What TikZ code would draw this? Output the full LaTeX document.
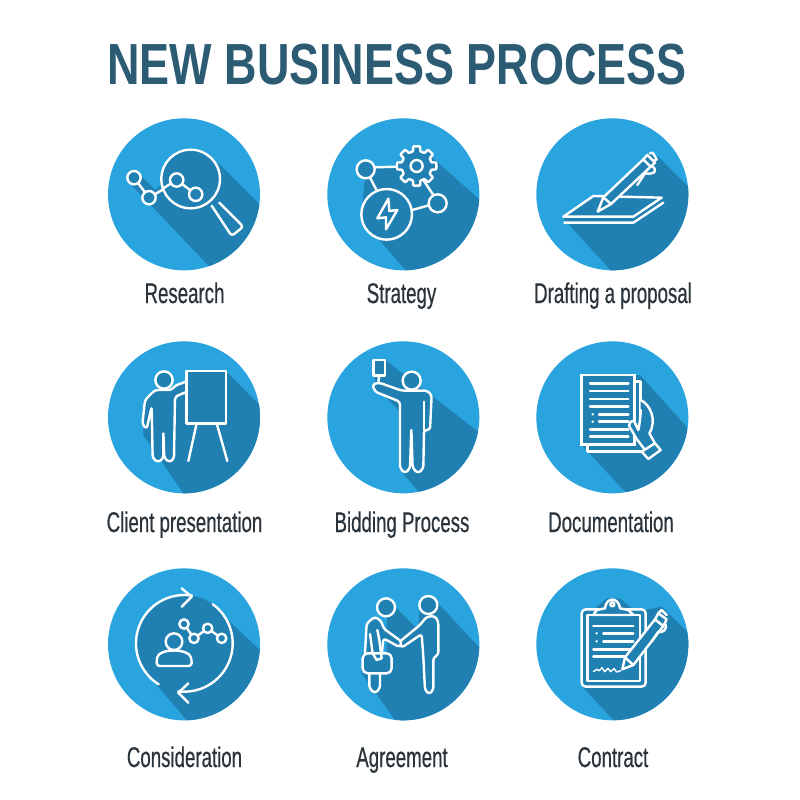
\documentclass[tikz,border=0pt]{standalone}
\usepackage{fontspec}
\setmainfont{Liberation Sans}
\newfontfamily\titlefont[FakeStretch=0.775]{Liberation Sans Bold}
\newfontfamily\labelfont[FakeStretch=0.655,FakeBold=0.5]{Liberation Sans}
\definecolor{lt}{HTML}{2AA4DF}
\definecolor{dk}{HTML}{2080B2}
\definecolor{ttl}{HTML}{2C5B74}
\definecolor{lab}{HTML}{2B343A}
\tikzset{
  ic/.style 2 args={shift={(#1,#2)},x=.33333pt,y=-.33333pt},
  ln/.style={draw=white,line width=2.4pt,line cap=round,line join=round},
  sh/.style={ln,fill=dk},
  capt/.style={font=\labelfont\fontsize{28.5}{30}\selectfont,text=lab,inner sep=0pt,anchor=base},
  ttlnode/.style={font=\titlefont\fontsize{58}{60}\selectfont,text=ttl,inner sep=0pt,anchor=center}
}
\newcommand\disc[3]{\fill[lt] (#1,#2) circle[radius=228];
  \begin{scope}\clip (#1,#2) circle[radius=228]; \fill[dk] #3; \end{scope}}
\begin{document}
\begin{tikzpicture}[x=1pt,y=-1pt]
\useasboundingbox (0,0) rectangle (800,800);
\fill[white] (0,0) rectangle (800,800);
\node[ttlnode] (title) at (397,65) {NEW BUSINESS PROCESS};
\node[capt] (c1) at (184.5,303) {Research};
\node[capt] (c2) at (401.5,303) {Strategy};
\node[capt] (c3) at (613,303) {Drafting a proposal};
\node[capt] (c4) at (184.5,532) {Client presentation};
\node[capt] (c5) at (402,532) {Bidding Process};
\node[capt] (c6) at (611,532) {Documentation};
\node[capt] (c7) at (184.5,767) {Consideration};
\node[capt] (c8) at (402,767) {Agreement};
\node[capt] (c9) at (613,767) {Contract};

% 1 Research
\begin{scope}[ic={100}{110}]
\disc{252}{253}{(85,215)--(115,190)--(165,240)--(195,215)--(270,120)--(360,165)--(700,505)--(500,650)--cycle}
\draw[ln] (102,203)--(147,263)--(190,238);
\foreach \a/\b in {102/203,147/263}{\draw[sh] (\a,\b) circle[radius=20];}
\draw[sh,rounded corners=3pt] (335,287)--(395,378)--(430,350)--(358,278);
\draw[sh] (272,207) circle[radius=88];
\draw[ln] (230,210)--(287,253) (188,236)--(230,210);
\foreach \a/\b in {230/210,287/253}{\draw[sh] (\a,\b) circle[radius=20];}
\end{scope}

% 2 Strategy
\begin{scope}[ic={320}{110}]
\disc{250}{253}{(165,172)--(235,172)--(290,110)--(345,150)--(480,270)--(480,500)--(265,490)--(165,375)--(125,310)--(135,200)--cycle}
\draw[ln] (137,178)--(172,245) (165,172)--(232,170) (310,210)--(340,255) (277,300)--(330,285);
\draw[sh] (137,178) circle[radius=27];
\draw[sh] (353,280) circle[radius=27];
\draw[sh] (200,313) circle[radius=76];
\draw[sh] (205,266)--(172,325)--(198,322)--(198,358)--(232,300)--(208,303)--cycle;
\draw[sh,rounded corners=.8pt] ({290+45*cos(-22.5)},{168+45*sin(-22.5)})
  \foreach \t in {0,45,...,315}{
   -- ({290+45*cos(\t-14)},{168+45*sin(\t-14)}) -- ({290+60*cos(\t-10)},{168+60*sin(\t-10)}) -- ({290+60*cos(\t+10)},{168+60*sin(\t+10)}) -- ({290+45*cos(\t+14)},{168+45*sin(\t+14)}) -- ({290+45*cos(\t+22.5)},{168+45*sin(\t+22.5)})
  } -- cycle;
\draw[ln] (290,168) circle[radius=18];
\end{scope}

% 3 Drafting
\begin{scope}[ic={530}{110}]
\disc{247}{253}{(100,325)--(190,258)--(225,258)--(355,130)--(385,140)--(480,235)--(480,500)--(250,490)--cycle}
\draw[ln] (100,320)--(190,258)--(395,263)--(310,320)--cycle;
\draw[ln] (103,338)--(310,338)--(400,278);
\draw[sh] (203,305)--(220,262)--(340,148)--(362,170)--(243,282)--cycle;
\draw[ln] (220,262)--(243,282);
\draw[sh] (340,148)--(352,135)--(375,158)--(362,170)--cycle;
\draw[ln] (360,130)--(368,128)--(380,148)--(373,152);
\draw[ln] (365,168) .. controls (385,180) and (375,195) .. (345,190)--(322,225);
\end{scope}

% 4 Client presentation
\begin{scope}[ic={100}{335}]
\disc{252}{247}{(130,300)--(130,200)--(225,185)--(260,175)--(260,108)--(378,108)--(490,220)--(490,500)--(250,475)--cycle}
\draw[sh,rounded corners=3pt] (165,165)--(135,195)--(127,268)--(140,282)--(155,215)--(158,370)--(175,382)--(190,370)--(190,290)--(193,370)--(210,382)--(222,370)--(225,185)--(285,160)--(298,145)--(285,130)--(225,152)--(215,165)--cycle;
\draw[sh] (192,135) circle[radius=26];
\draw[sh] (260,108) rectangle (378,265);
\draw[ln] (290,265)--(265,378) (350,265)--(382,378);
\end{scope}

% 5 Bidding
\begin{scope}[ic={320}{335}]
\disc{250}{247}{(165,75)--(195,75)--(475,290)--(490,480)--(300,475)--(240,405)--(240,230)--(165,155)--cycle}
\draw[sh] (160,75) rectangle (195,122);
\draw[ln] (177,122)--(175,146);
\draw[sh,rounded corners=3pt] (157,148)--(178,143)--(245,167)--(322,167)--(335,180)--(330,285)--(312,285)--(310,400)--(295,415)--(278,400)--(274,280)--(270,400)--(255,415)--(240,400)--(240,200)--(165,170)--cycle;
\draw[ln] (312,200)--(312,285);
\draw[sh] (275,137) circle[radius=27];
\end{scope}

% 6 Documentation
\begin{scope}[ic={530}{335}]
\disc{247}{247}{(155,120)--(330,120)--(470,275)--(490,480)--(285,470)--(155,330)--cycle}
\draw[ln,line cap=butt] (313,140)--(332,140)--(332,255);
\draw[ln,line cap=butt] (172,328)--(172,350)--(335,350);
\draw[sh,line join=miter] (155,120) rectangle (313,328);
\draw[ln] \foreach \y in {146,168,192,215,283,305}{(180,\y)--(295,\y)};
\draw[ln] (207,238)--(295,238) (207,260)--(295,260);
\fill[white] (188,238) circle[radius=4] (188,260) circle[radius=4];
\draw[sh] (332,195) .. controls (360,208) and (382,255) .. (358,295)--(375,325)--(345,345)--(320,312)--(297,272)--(302,260)--(312,258)--(325,285) .. controls (330,260) and (332,240) .. (332,225);
\draw[sh] (335,350)--(375,325)--(392,345)--(355,372)--cycle;
\end{scope}

% 7 Consideration
\begin{scope}[ic={100}{560}]
\disc{252}{253}{(253,250) circle[radius=145] (270,110)--(335,135)--(480,270)--(480,500)--(260,480)--(170,375)--cycle}
\draw[ln] plot[domain=122:279,samples=50] ({253+145*cos(\x)},{250+145*sin(\x)});
\draw[ln] (245,85)--(275,110)--(245,140);
\draw[ln] plot[domain=-54:97,samples=50] ({253+145*cos(\x)},{250+145*sin(\x)});
\draw[ln] (265,370)--(235,398)--(265,428);
\draw[ln] (252,192)--(282,235)--(323,205)--(365,235);
\foreach \a/\b in {252/192,282/235,323/205,365/235}{\draw[sh] (\a,\b) circle[radius=14];}
\draw[sh] (222,245) circle[radius=25];
\draw[sh,rounded corners=3pt] (170,318)--(170,300) .. controls (178,265) and (265,265) .. (275,300)--(275,318)--cycle;
\end{scope}

% 8 Agreement
\begin{scope}[ic={320}{560}]
\disc{250}{253}{(225,140)--(295,210)--(300,115)--(350,125)--(480,265)--(480,500)--(225,480)--(125,340)--(125,280)--(200,290)--(200,170)--cycle}
\draw[sh,rounded corners=3pt] (320,170)--(345,168)--(355,185)--(355,285)--(340,292)--(340,390)--(327,403)--(315,390)--(310,290)--(305,222)--(245,263)--(235,250)--(245,240)--(300,195)--cycle;
\draw[sh] (325,135) circle[radius=27];
\draw[sh,rounded corners=3pt] (165,170)--(140,190)--(135,280)--(148,340)--(148,385)--(165,400)--(180,385)--(180,340)--(190,235)--(240,262)--(245,245)--(190,205)--(185,185)--cycle;
\draw[sh] (198,142) circle[radius=27];
\draw[sh,rounded corners=5pt] (128,280) rectangle (215,340);
\draw[ln] (150,222)--(158,280)--(170,300)--(185,295)--(178,240)--(172,210);
\end{scope}

% 9 Contract
\begin{scope}[ic={530}{560}]
\disc{247}{253}{(155,150)--(190,150)--(230,115)--(270,115)--(310,150)--(345,150)--(395,140)--(480,225)--(490,500)--(250,480)--(155,378)--cycle}
\draw[sh,rounded corners=4pt] (155,148) rectangle (347,380);
\draw[ln] (192,165)--(172,165)--(172,363)--(330,363)--(330,165)--(308,165);
\draw[sh] (190,165)--(200,150)--(225,145) .. controls (228,110) and (266,110) .. (270,145)--(295,150)--(310,165)--cycle;
\draw[ln] (247,133) circle[radius=6];
\draw[ln] (190,198)--(310,198) (220,220)--(310,220) (220,244)--(310,244) (190,268)--(305,268) (190,290)--(285,290);
\fill[white] (200,220) circle[radius=4] (200,244) circle[radius=4];
\draw[ln,line width=1.4pt] (190,335)--(200,328)--(208,332)--(216,323)--(224,335)--(234,325)--(242,335)--(252,326)--(260,336)--(272,332);
\draw[sh] (277,328)--(285,292)--(375,178)--(400,198)--(310,315)--cycle;
\draw[ln] (285,292)--(310,315);
\draw[sh] (375,178)--(385,160)--(410,178)--(400,198)--cycle;
\draw[ln] (385,160)--(395,150)--(410,165);
\draw[ln] (405,190) .. controls (415,210) and (395,220) .. (385,215)--(365,245);
\end{scope}
\end{tikzpicture}
\end{document}
